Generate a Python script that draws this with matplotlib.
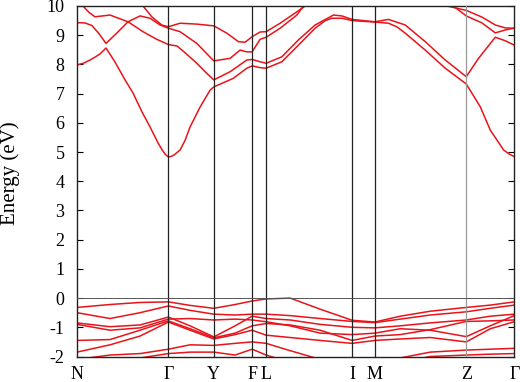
import matplotlib
matplotlib.use("Agg")
import matplotlib.pyplot as plt

# High-symmetry points (path length, arbitrary units)
hs_k = [0, 91.3, 136.7, 175, 189, 275, 297.7, 389, 437]
hs_labels = ["N", "Γ", "Y", "F", "L", "I", "M", "Z", "Γ"]

# Conduction bands (k, E)
cb1 = [(0, 7.98), (7, 8.05), (13, 8.15), (19, 8.27), (23, 8.36), (29, 8.56), (33, 8.35), (38, 8.08),
       (48, 7.47), (56, 7.02), (65, 6.37), (73, 5.86), (81, 5.31), (85, 5.08), (88, 4.93),
       (91.3, 4.83), (94, 4.85), (97, 4.90), (103, 5.07), (108, 5.40), (113, 5.86), (123, 6.54),
       (133, 7.12), (136.7, 7.23), (156, 7.52), (169.7, 7.87), (175, 7.95), (183, 7.89),
       (189, 7.87), (204.7, 8.09), (221.3, 8.66), (238, 9.24), (248, 9.50), (254.7, 9.58),
       (264.7, 9.58), (275, 9.50), (297.7, 9.45), (311.3, 9.41), (320, 9.28), (328, 9.07),
       (348, 8.49), (368, 7.87), (389, 7.33), (394.7, 7.01), (403, 6.55), (413, 5.75),
       (419.7, 5.41), (426.3, 5.07), (432, 4.93), (437, 4.84)]
cb2 = [(0, 9.43), (8, 9.42), (15, 9.33), (22, 9.05), (29, 8.72), (39.7, 9.07), (51, 9.46),
       (63, 9.66), (73, 9.58), (83, 9.35), (91.3, 9.24), (103, 9.12), (119.7, 8.72),
       (136.7, 8.12), (153, 8.21), (163, 8.49), (169.7, 8.43), (175, 8.43), (183, 8.86),
       (189, 8.93), (203, 9.24), (219.7, 9.69), (226.3, 10.0), (233, 10.25)]
cb3 = [(0, 10.3), (6, 10.0), (12, 9.78), (18, 9.63), (33, 9.69), (51, 9.46), (66, 9.12),
       (79.7, 8.86), (91.3, 8.68), (100, 8.63), (108, 8.40), (119.7, 8.04), (128, 7.75),
       (136.7, 7.47), (153, 7.75), (169.7, 8.15), (175, 8.17), (183, 8.09), (189, 8.04),
       (204.7, 8.26), (221.3, 8.84), (238, 9.35), (256.3, 9.69), (264.7, 9.66), (275, 9.54),
       (297.7, 9.46), (311.3, 9.54), (328, 9.35), (348, 8.78), (368, 8.15), (389, 7.58),
       (401.3, 8.21), (418, 8.93), (428, 8.81), (437, 8.66)]
cb4 = [(63, 10.1), (66, 10.0), (74.7, 9.63), (84.7, 9.35), (91.3, 9.29), (103, 9.41),
       (119.7, 9.38), (136.7, 9.32), (149.7, 9.07), (161.3, 8.78), (168, 8.76), (175, 8.95),
       (183, 9.11), (189, 9.12), (203, 9.41), (219.7, 9.80), (228, 10.0), (233, 10.15)]
cb5 = [(363, 10.1), (369.7, 10.0), (389, 9.85), (404.7, 9.62), (418, 9.35), (428, 9.25), (437, 9.24)]
cb6 = [(369, 10.1), (376, 10.0), (389, 9.66), (404.7, 9.42), (418, 9.08), (428, 9.18), (437, 9.24)]

# Valence bands sampled along the path
vb_k = [0, 33, 63, 91.3, 113, 136.7, 158, 175, 189, 213, 243, 275, 297.7, 323, 353, 389, 413, 437]
vb1 = [-0.32, -0.22, -0.15, -0.13, -0.25, -0.35, -0.22, -0.10, -0.03, 0.00, -0.38, -0.76, -0.82, -0.62, -0.45, -0.32, -0.24, -0.13]
vb2 = [-0.50, -0.70, -0.50, -0.27, -0.42, -0.55, -0.58, -0.55, -0.55, -0.60, -0.70, -0.80, -0.84, -0.72, -0.58, -0.47, -0.35, -0.24]
vb3 = [-0.85, -0.98, -0.92, -0.65, -0.95, -1.33, -0.95, -0.62, -0.70, -0.75, -0.90, -1.00, -1.02, -0.95, -0.85, -0.75, -0.62, -0.55]
vb4 = [-0.90, -1.10, -1.02, -0.72, -0.70, -0.75, -0.72, -0.75, -0.81, -0.95, -1.20, -1.25, -1.20, -1.05, -1.10, -1.32, -0.95, -0.60]
vb5 = [-1.45, -1.42, -1.10, -0.78, -1.05, -1.36, -1.20, -0.95, -0.87, -0.92, -1.10, -1.45, -1.30, -1.25, -1.08, -0.80, -0.78, -0.75]
vb6 = [-1.85, -1.60, -1.30, -0.82, -1.10, -1.40, -1.25, -1.10, -1.27, -1.35, -1.45, -1.55, -1.45, -1.40, -1.35, -1.50, -1.05, -0.81]
vb7 = [-2.10, -1.95, -1.90, -1.75, -1.60, -1.62, -1.55, -1.50, -1.55, -1.80, -2.10, -2.20, -2.20, -2.05, -1.85, -1.78, -1.75, -1.72]
vb8 = [-2.30, -2.20, -2.05, -1.90, -1.85, -1.85, -1.95, -1.75, -1.95, -2.20, -2.30, -2.30, -2.25, -2.20, -2.00, -1.95, -1.92, -1.90]

y_ticks = list(range(-2, 11))

plt.rcParams['font.family'] = ['Liberation Serif', 'DejaVu Serif']

fig = plt.figure(figsize=(5.2, 3.82), dpi=100)
ax = fig.add_axes([77 / 520, 1 - 356.5 / 382, 437.3 / 520, 350.5 / 382])

red = '#e8141a'
for band in [cb1, cb2, cb3, cb4, cb5, cb6]:
    ks = [p[0] for p in band]
    es = [p[1] for p in band]
    ax.plot(ks, es, color=red, lw=1.1, solid_joinstyle='round')
for band in [vb1, vb2, vb3, vb4, vb5, vb6, vb7, vb8]:
    ax.plot(vb_k, band, color=red, lw=1.1, solid_joinstyle='round')

for i, k in enumerate(hs_k[1:-1]):
    col = '#999999' if hs_labels[i + 1] == 'Z' else '#222222'
    ax.axvline(k, color=col, lw=0.9, zorder=3)
ax.axhline(0, color='#555555', lw=0.7, zorder=3)

ax.set_xlim(hs_k[0], hs_k[-1])
ax.set_ylim(-2, 10)
ax.set_yticks(y_ticks)
ax.set_yticklabels([str(t) for t in y_ticks])
ax.set_xticks(hs_k)
ax.set_xticklabels(hs_labels, fontsize=13)
ax.tick_params(axis='x', length=0, pad=7)
ax.tick_params(axis='y', direction='in', length=4, left=True, right=True, labelsize=13, pad=9)
for s in ax.spines.values():
    s.set_linewidth(1.0)
    s.set_color('#222222')

fig.text(10.5 / 520, 1 - 173 / 382, 'Energy (eV)', rotation=90, ha='center', va='center', fontsize=15)

fig.savefig('out.png', dpi=100)
